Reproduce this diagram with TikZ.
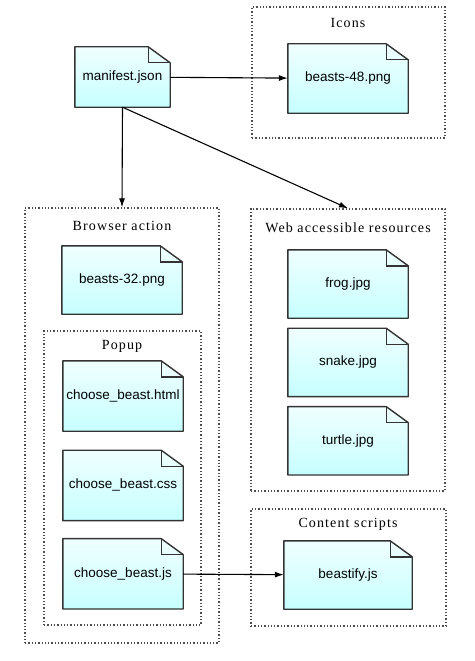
\documentclass[tikz,border=0pt]{standalone}
\usepackage{fontspec}
\setmainfont{Liberation Sans}
\newfontfamily\grouplabelfont[LetterSpace=8]{Liberation Serif}
\usetikzlibrary{positioning}
\usetikzlibrary{arrows.meta}
\usetikzlibrary{backgrounds}

\tikzset{
  file/.style={inner sep=0, minimum width=120, minimum height=68, font=\fontsize{13.5}{16}\selectfont},
  filebody/.style={draw=black!80, line width=1.4pt, top color=cyan!6, bottom color=cyan!22, line join=round},
  group/.style={draw=black!70, dotted, line width=1.3pt, inner sep=0},
  grouplabel/.style={font=\grouplabelfont\fontsize{14}{16}\selectfont},
  link/.style={->, -{Latex[length=9pt,width=6pt]}, line width=1.1pt},
}

\begin{document}
\begin{tikzpicture}[x=1pt, y=-1pt]
    \useasboundingbox (0,0) rectangle (474,661);

    % groups
    \node[group, minimum width=193, minimum height=131] (icons) at (348.5,72.5) {};
    \node[grouplabel] at (348,23) {Icons};
    \node[group, minimum width=194, minimum height=435] (browser) at (122,425.5) {};
    \node[grouplabel] at (122,226) {Browser action};
    \node[group, minimum width=157, minimum height=294] (popup) at (122.5,478) {};
    \node[grouplabel] at (122,346) {Popup};
    \node[group, minimum width=194, minimum height=282] (web) at (348,350) {};
    \node[grouplabel] at (348,228) {Web accessible resources};
    \node[group, minimum width=195, minimum height=117] (content) at (348.5,567.5) {};
    \node[grouplabel] at (348,524) {Content scripts};

    % files
    \node[file, minimum width=95, minimum height=60] (manifest) at (122.5,77) {manifest.json};
    \node[file, minimum height=69] (icon48) at (348,78.5) {beasts-48.png};
    \node[file] (icon32) at (122,280) {beasts-32.png};
    \node[file, minimum height=70] (popuphtml) at (123,396) {choose\_beast.html};
    \node[file, minimum height=70, below=19pt of popuphtml] (popupcss) {choose\_beast.css};
    \node[file, minimum height=70, below=18pt of popupcss] (popupjs) {choose\_beast.js};
    \node[file] (frog) at (348,284) {frog.jpg};
    \node[file, below=10pt of frog] (snake) {snake.jpg};
    \node[file, below=10pt of snake] (turtle) {turtle.jpg};
    \node[file, minimum width=128] (beastify) at (348,575) {beastify.js};

    \begin{scope}[on background layer]
        \foreach \n in {manifest,icon48,icon32,popuphtml,popupcss,popupjs,frog,snake,turtle,beastify}{
            \draw[filebody] (\n.south west) -- (\n.south east) -- ([yshift=-16pt]\n.north east)
                -- ([xshift=-22pt]\n.north east) -- (\n.north west) -- cycle;
            \draw[draw=black!80, line width=1.4pt] ([xshift=-22pt]\n.north east) |- ([yshift=-16pt]\n.north east);
        }
    \end{scope}

    % links
    \draw[link] (manifest) -- (icon48);
    \draw[link] (manifest.south) -- (browser.north);
    \draw[link] (manifest.south) -- (web.north);
    \draw[link] (popupjs) -- (beastify);
\end{tikzpicture}
\end{document}
